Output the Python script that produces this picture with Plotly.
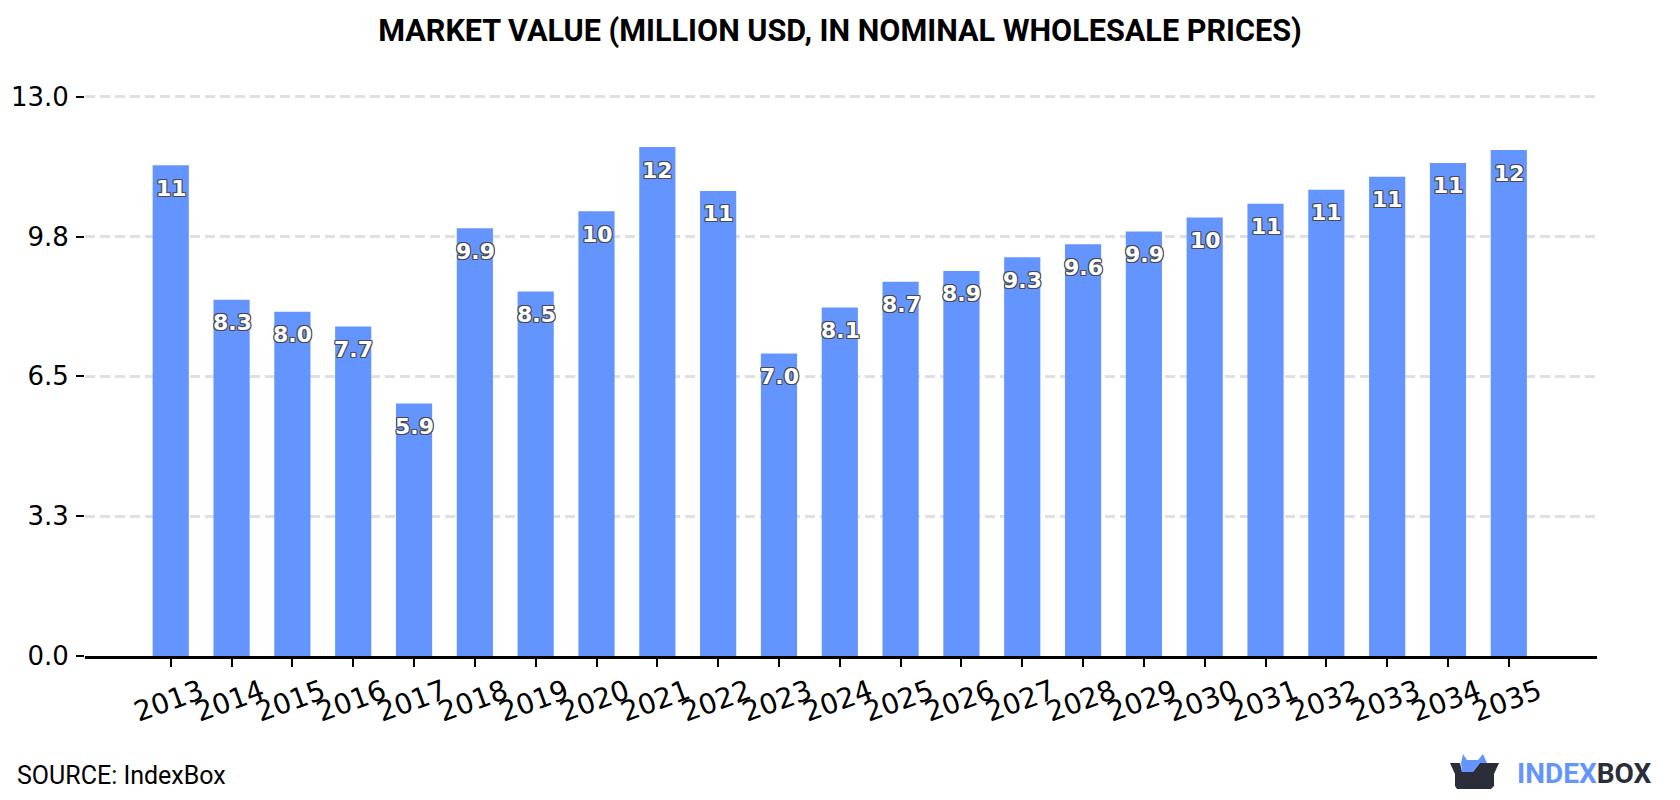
import plotly.graph_objects as go

years = [str(y) for y in range(2013, 2036)]
values = [11.41, 8.28, 8.0, 7.66, 5.87, 9.94, 8.47, 10.34, 11.83, 10.81, 7.03, 8.1,
          8.7, 8.95, 9.27, 9.57, 9.87, 10.19, 10.51, 10.84, 11.14, 11.46, 11.76]
y_ticks = [0, 3.25, 6.5, 9.75, 13]
y_tick_labels = ["0.0", "3.3", "6.5", "9.8", "13.0"]

BLUE = "#6495ff"
DARK = "#2b2d38"
OUTLINE = "#4a4a4a"

# Plot area edges in page pixels; the logo is positioned relative to them.
# The value axis runs slightly past 13 so the gridline at 13 is kept.
Y_MAX = 13.04
LEFT, RIGHT, TOP, BOTTOM = 85, 1597, 95.3, 656


def px(x):
    return (x - LEFT) / (RIGHT - LEFT)


def py(y):
    return (BOTTOM - y) / (BOTTOM - TOP)


def poly(points):
    return "M" + " L".join(f"{px(x):.5f},{py(y):.5f}" for x, y in points) + " Z"


def two_digits(v):
    return f"{v:.0f}" if v >= 9.95 else f"{v:.1f}"


fig = go.Figure(go.Bar(x=years, y=values, width=0.595, marker=dict(color=BLUE, line_width=0)))

# Thin dark outline around the white value labels
halo = ", ".join(f"{a}px {b}px 0.6px {OUTLINE}"
                 for a, b in [(1, 0), (-1, 0), (0, 1), (0, -1), (1, 1), (-1, 1), (1, -1), (-1, -1)])
annotations = [
    dict(x=i, y=v, xref="x", yref="y", text=two_digits(v), showarrow=False, yshift=-23, xshift=0.5,
         font=dict(family="DejaVu Sans", size=22, color="white", weight="bold", shadow=halo))
    for i, v in enumerate(values)
]
annotations.append(dict(xref="paper", yref="paper", x=px(15), y=py(775), xanchor="left", yanchor="middle",
                        text="SOURCE: IndexBox", showarrow=False,
                        font=dict(family="Roboto", size=25, color="black")))
annotations.append(dict(xref="paper", yref="paper", x=px(1515), y=py(773), xanchor="left", yanchor="middle",
                        text=f'<span style="color:{BLUE}">INDEX</span><span style="color:{DARK}">BOX</span>',
                        showarrow=False,
                        font=dict(family="Roboto", size=28, weight="bold")))

logo_body = [(1450, 763), (1460, 763), (1462, 772), (1473, 772), (1480, 763), (1499, 763),
             (1494, 774), (1494, 786), (1491, 789), (1457, 789), (1455, 786), (1455, 774)]
logo_top = [(1461, 763), (1463, 754), (1467, 760), (1478, 760), (1483, 754), (1487, 763),
            (1480, 763), (1473, 772), (1462, 772)]
shapes = [
    dict(type="path", xref="paper", yref="paper", path=poly(logo_top), fillcolor=BLUE, line_width=0),
    dict(type="path", xref="paper", yref="paper", path=poly(logo_body), fillcolor=DARK, line_width=0),
]

fig.update_layout(
    width=1680, height=800, autosize=False,
    margin=dict(l=LEFT, r=1680 - RIGHT, t=TOP, b=800 - BOTTOM, pad=0),
    paper_bgcolor="white", plot_bgcolor="white", showlegend=False, bargap=0.4,
    title=dict(text="<b>MARKET VALUE (MILLION USD, IN NOMINAL WHOLESALE PRICES)</b>",
               x=0.5, xanchor="center", y=0.9625, yanchor="middle",
               font=dict(family="Roboto", size=30.6, color="black")),
    xaxis=dict(type="category", range=[-1.41, 23.45], tickmode="array", tickvals=years, ticktext=years,
               automargin=False,
               tickangle=-20, ticklabelshift=30, ticklabelstandoff=-2, showgrid=False, zeroline=False,
               showline=True, linecolor="black", linewidth=3,
               ticks="outside", ticklen=8, tickwidth=2, tickcolor="black",
               tickfont=dict(family="DejaVu Sans", size=28, color="black")),
    yaxis=dict(range=[0, Y_MAX], tickmode="array", tickvals=y_ticks, ticktext=y_tick_labels,
               automargin=False,
               showgrid=True, gridcolor="#e0e0e0", gridwidth=2.5, griddash="10px,5px",
               zeroline=False, showline=False, ticklabelstandoff=2,
               ticks="outside", ticklen=8, tickwidth=2, tickcolor="black",
               tickfont=dict(family="DejaVu Sans", size=26, color="black")),
    annotations=annotations,
    shapes=shapes,
)

fig.write_html("out.html")
